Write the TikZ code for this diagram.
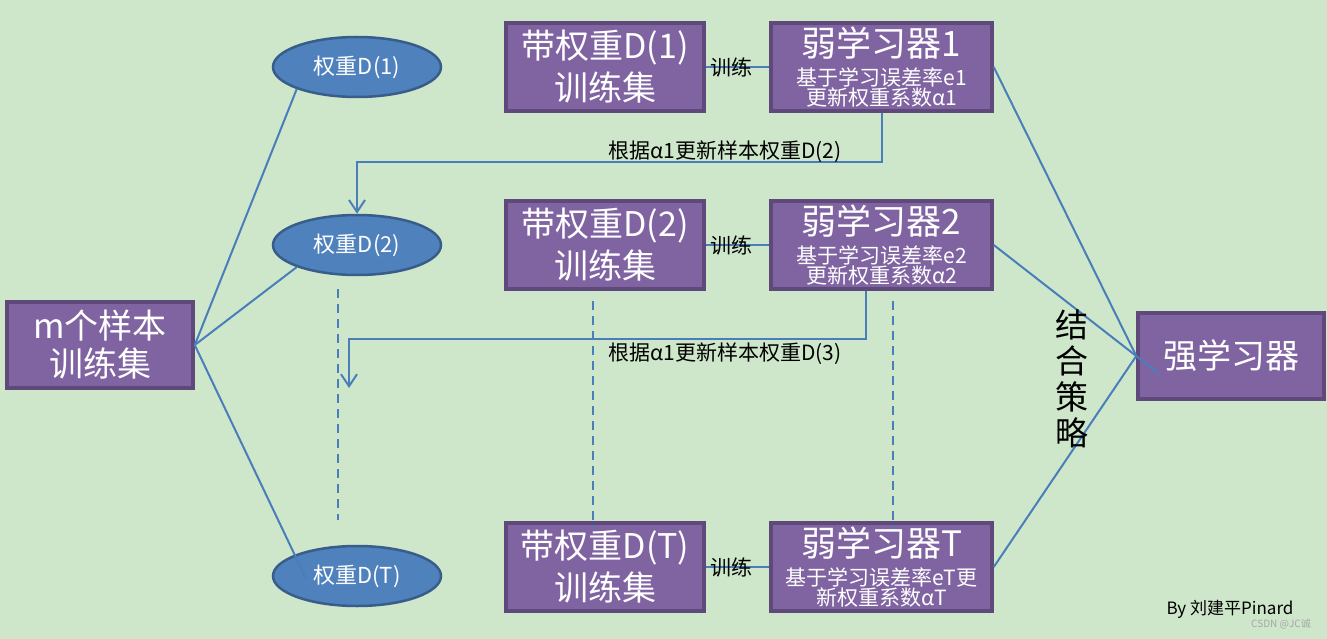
\documentclass[tikz,border=0pt]{standalone}
\usepackage{fontspec}
\setmainfont{Noto Sans CJK SC}
\usetikzlibrary{shapes.geometric,arrows.meta,calc}
\definecolor{bggreen}{RGB}{206,231,202}
\definecolor{boxpurple}{RGB}{128,100,162}
\definecolor{boxborder}{RGB}{94,73,122}
\definecolor{ellblue}{RGB}{79,129,189}
\definecolor{ellborder}{RGB}{56,93,138}
\definecolor{linkblue}{RGB}{74,126,187}
\begin{document}
\begin{tikzpicture}[x=1pt,y=-1pt]
            \tikzset{
                box/.style={draw=boxborder, line width=3.5pt, fill=boxpurple, text=white, align=center, inner sep=0pt},
                bigbox/.style={box, minimum width=186pt, minimum height=86pt, font=\fontsize{34}{40}\selectfont},
                setbox/.style={box, minimum width=198pt, minimum height=88pt, font=\fontsize{34}{42}\selectfont},
                learner/.style={box, minimum width=221pt, minimum height=88pt, text width=221pt},
                weight/.style={ellipse, draw=ellborder, line width=2.5pt, fill=ellblue, text=white,
                    minimum width=168pt, minimum height=60pt, inner sep=0pt, font=\fontsize{22}{26}\selectfont},
                link/.style={draw=linkblue, line width=2pt},
                arr/.style={link, -{Straight Barb[length=12pt,width=16pt]}},
                dots/.style={link, dash pattern=on 9pt off 6pt},
                lbl/.style={inner sep=0pt, font=\fontsize{21}{24}\selectfont},}
            \fill[bggreen] (0,0) rectangle (1327,639);
            % left and right
            \node[bigbox] (data) at (100,345) {m个样本\\[-2pt]训练集};
            \node[bigbox] (strong) at (1231,356) {强学习器};
            % weights and training sets
            \foreach \k/\y in {1/67,2/245,T/576}
                \node[weight] (w\k) at (357,\y) {权重D(\k)};
            \foreach \k/\y in {1/67,2/245,T/567}
                \node[setbox] (s\k) at (605,\y) {带权重D(\k)\\训练集};
            % weak learners
            \node[learner] (l1) at (881.5,67) {\fontsize{35}{40}\selectfont 弱学习器1\par
                \fontsize{21}{29}\selectfont 基于学习误差率e1\par
                \fontsize{21}{24}\selectfont 更新权重系数α1};
            \node[learner] (l2) at (881.5,245) {\fontsize{35}{40}\selectfont 弱学习器2\par
                \fontsize{21}{29}\selectfont 基于学习误差率e2\par
                \fontsize{21}{24}\selectfont 更新权重系数α2};
            \node[learner] (lT) at (881.5,567) {\fontsize{35}{40}\selectfont 弱学习器T\par
                \fontsize{21}{29}\selectfont 基于学习误差率eT更\par
                \fontsize{21}{24}\selectfont 新权重系数αT};
            % connectors
            \draw[link] (data.east) -- (w1.south west);
            \draw[link] (data.east) -- (w2.south west);
            \draw[link] (data.east) -- ([xshift=34pt,yshift=-2pt]wT.west);
            \foreach \k in {1,2,T}
                \draw[link] (s\k.east) -- (l\k.west) node[lbl, pos=0.4] (t\k) {训练};
            \draw[link] (l1.east) -- (strong.west);
            \draw[link] (l2.east) -- ($(l2.east)!1.16!(strong.west)$);
            \draw[link] (lT.east) -- (strong.west);
            % weight updates
            \coordinate (e3) at (349,388);
            \draw[arr] (l1.south) -- ++(0,49) -| (w2.north);
            \draw[arr] ([xshift=-16pt]l2.south) -- ++(0,48) -| (e3);
            \node[lbl] (u1) at (725,152) {根据α1更新样本权重D(2)};
            \node[lbl] (u2) at (725,354) {根据α1更新样本权重D(3)};
            % dots
            \draw[dots] ([xshift=-19pt,yshift=-13pt]w2.south) -- ([xshift=-19pt,yshift=25pt]wT.north);
            \draw[dots] ([xshift=-12pt,yshift=-10pt]s2.south) -- ([xshift=-12pt,yshift=-8pt]sT.north);
            \draw[dots] ([xshift=11.5pt,yshift=-10pt]l2.south) -- ([xshift=11.5pt,yshift=-8pt]lT.north);
            % texts
            \node[align=center, inner sep=0pt, font=\fontsize{33}{36}\selectfont] (combine) at (1072,379) {结\\合\\策\\略};
            \node[inner sep=0pt, font=\fontsize{17}{20}\selectfont] (byline) at (1230,609) {By 刘建平Pinard};
            \node[inner sep=0pt, text=gray!70, font=\fontsize{10}{12}\selectfont] (csdn) at (1281,624) {CSDN @JC诚};
        \end{tikzpicture}
\end{document}
